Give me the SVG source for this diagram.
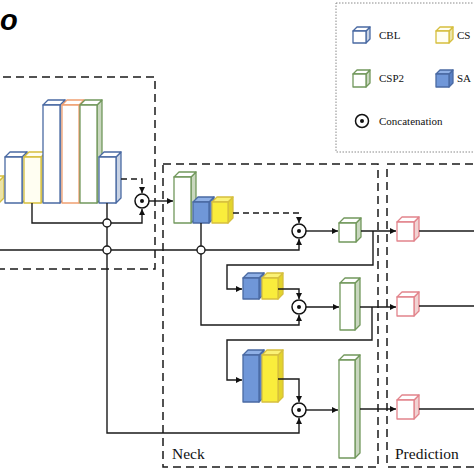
<svg xmlns="http://www.w3.org/2000/svg" width="474" height="474" viewBox="0 0 474 474">
<defs>
<marker id="ah" viewBox="0 0 6 6" refX="6" refY="3" markerWidth="6" markerHeight="6" markerUnits="userSpaceOnUse" orient="auto">
<path d="M0,0 L6,3 L0,6 Z" fill="#111"/>
</marker>
<style>
.ln{fill:none;stroke:#1a1a1a;stroke-width:1.4}
.dl{fill:none;stroke:#1a1a1a;stroke-width:1.4;stroke-dasharray:6,4}
.box{fill:none;stroke:#1a1a1a;stroke-width:1.5;stroke-dasharray:8,5}
.jn{fill:#fff;stroke:#1a1a1a;stroke-width:1.4}
.cc{fill:#fff;stroke:#111;stroke-width:1.5}
.dot{fill:#111}
.lbl{font-family:"Liberation Serif","Times New Roman",serif;fill:#111}
.b{stroke:#4a6aa3;stroke-width:1.3;stroke-linejoin:round}
.b .f,.b .t{fill:#fff}.b .s{fill:#c9d3e4}
.o{stroke:#f0a072;stroke-width:1.3;stroke-linejoin:round}
.o .f,.o .t{fill:#fff}.o .s{fill:#f7d9c4}
.g{stroke:#72985c;stroke-width:1.3;stroke-linejoin:round}
.g .f,.g .t{fill:#fff}.g .s{fill:#c9d7bf}
.y{stroke:#d6bf3e;stroke-width:1.3;stroke-linejoin:round}
.y .f,.y .t{fill:#fffef2}.y .s{fill:#ece3a6}
.sa{stroke:#4a6aa3;stroke-width:1.3;stroke-linejoin:round}
.sa .f{fill:#7097d8}.sa .t{fill:#8fb0e6}.sa .s{fill:#5a80c4}
.yf{stroke:#d6bf3e;stroke-width:1.3;stroke-linejoin:round}
.yf .f{fill:#f9ed3c}.yf .t{fill:#fbf276}.yf .s{fill:#e3d42c}
.p{stroke:#e2848c;stroke-width:1.3;stroke-linejoin:round}
.p .f,.p .t{fill:#fff}.p .s{fill:#f1d2d2}
</style>
</defs>
<rect x="0" y="0" width="474" height="474" fill="#fff"/>

<text x="0" y="30" font-family="Liberation Sans, Arial, sans-serif" font-weight="bold" font-style="italic" font-size="29" fill="#000">o</text>

<!-- Legend -->
<g id="legend">
<rect x="336" y="3" width="150" height="149" fill="none" stroke="#8a8a8a" stroke-width="1" stroke-dasharray="1.5,1.5"/>
<g class="b"><path class="s" d="M366,31 L370,27 L370,39 L366,43 Z"/><path class="t" d="M353,31 L357,27 L370,27 L366,31 Z"/><rect class="f" x="353" y="31" width="13" height="12"/></g>
<text class="lbl" x="379" y="39" font-size="11">CBL</text>
<g class="y"><path class="s" d="M449,31 L453,27 L453,39 L449,43 Z"/><path class="t" d="M436,31 L440,27 L453,27 L449,31 Z"/><rect class="f" x="436" y="31" width="13" height="12"/></g>
<text class="lbl" x="457" y="39" font-size="11">CS</text>
<g class="g"><path class="s" d="M366,74 L370,70 L370,83 L366,87 Z"/><path class="t" d="M353,74 L357,70 L370,70 L366,74 Z"/><rect class="f" x="353" y="74" width="13" height="13"/></g>
<text class="lbl" x="379" y="82" font-size="11">CSP2</text>
<g class="sa"><path class="s" d="M449,74 L453,70 L453,83 L449,87 Z"/><path class="t" d="M436,74 L440,70 L453,70 L449,74 Z"/><rect class="f" x="436" y="74" width="13" height="13"/></g>
<text class="lbl" x="457" y="82" font-size="11">SA</text>
<circle class="cc" cx="362" cy="121" r="6.5"/><circle class="dot" cx="362" cy="121" r="2"/>
<text class="lbl" x="379" y="125" font-size="11">Concatenation</text>
</g>

<!-- Region boxes -->
<g id="backbone">
<rect class="box" x="-10" y="77" width="165" height="192"/>
<g class="y"><path class="s" d="M-1,181 L4,176 L4,198 L-1,203 Z"/><path class="t" d="M-15,181 L-10,176 L4,176 L-1,181 Z"/><rect class="f" x="-15" y="181" width="14" height="22"/></g>
<g class="b"><path class="s" d="M22,157 L27,152 L27,198 L22,203 Z"/><path class="t" d="M5,157 L10,152 L27,152 L22,157 Z"/><rect class="f" x="5" y="157" width="17" height="46"/></g>
<g class="y"><path class="s" d="M41,157 L46,152 L46,198 L41,203 Z"/><path class="t" d="M24,157 L29,152 L46,152 L41,157 Z"/><rect class="f" x="24" y="157" width="17" height="46"/></g>
<g class="b"><path class="s" d="M60,105 L65,100 L65,198 L60,203 Z"/><path class="t" d="M43,105 L48,100 L65,100 L60,105 Z"/><rect class="f" x="43" y="105" width="17" height="98"/></g>
<g class="o"><path class="s" d="M79,105 L84,100 L84,198 L79,203 Z"/><path class="t" d="M62,105 L67,100 L84,100 L79,105 Z"/><rect class="f" x="62" y="105" width="17" height="98"/></g>
<g class="g"><path class="s" d="M97,105 L102,100 L102,198 L97,203 Z"/><path class="t" d="M80,105 L85,100 L102,100 L97,105 Z"/><rect class="f" x="80" y="105" width="17" height="98"/></g>
<g class="b"><path class="s" d="M116,157 L121,152 L121,198 L116,203 Z"/><path class="t" d="M99,157 L104,152 L121,152 L116,157 Z"/><rect class="f" x="99" y="157" width="17" height="46"/></g>
</g>

<g id="neck">
<rect class="box" x="163" y="164" width="215" height="303"/>
<text class="lbl" x="172" y="459" font-size="15.5">Neck</text>
<g class="g"><path class="s" d="M191,177 L196,172 L196,218 L191,223 Z"/><path class="t" d="M174,177 L179,172 L196,172 L191,177 Z"/><rect class="f" x="174" y="177" width="17" height="46"/></g>
<g class="sa"><path class="s" d="M209,202 L214,197 L214,218 L209,223 Z"/><path class="t" d="M193,202 L198,197 L214,197 L209,202 Z"/><rect class="f" x="193" y="202" width="16" height="21"/></g>
<g class="yf"><path class="s" d="M228,202 L233,197 L233,218 L228,223 Z"/><path class="t" d="M212,202 L217,197 L233,197 L228,202 Z"/><rect class="f" x="212" y="202" width="16" height="21"/></g>
<g class="g"><path class="s" d="M356,223 L361,218 L361,237 L356,242 Z"/><path class="t" d="M339,223 L344,218 L361,218 L356,223 Z"/><rect class="f" x="339" y="223" width="17" height="19"/></g>
<g class="sa"><path class="s" d="M259,278 L264,273 L264,294 L259,299 Z"/><path class="t" d="M243,278 L248,273 L264,273 L259,278 Z"/><rect class="f" x="243" y="278" width="16" height="21"/></g>
<g class="yf"><path class="s" d="M278,278 L283,273 L283,294 L278,299 Z"/><path class="t" d="M262,278 L267,273 L283,273 L278,278 Z"/><rect class="f" x="262" y="278" width="16" height="21"/></g>
<g class="g"><path class="s" d="M355,283 L360,278 L360,325 L355,330 Z"/><path class="t" d="M340,283 L345,278 L360,278 L355,283 Z"/><rect class="f" x="340" y="283" width="15" height="47"/></g>
<g class="sa"><path class="s" d="M259,355 L264,350 L264,397 L259,402 Z"/><path class="t" d="M243,355 L248,350 L264,350 L259,355 Z"/><rect class="f" x="243" y="355" width="16" height="47"/></g>
<g class="yf"><path class="s" d="M278,355 L283,350 L283,397 L278,402 Z"/><path class="t" d="M262,355 L267,350 L283,350 L278,355 Z"/><rect class="f" x="262" y="355" width="16" height="47"/></g>
<g class="g"><path class="s" d="M355,360 L360,355 L360,453 L355,458 Z"/><path class="t" d="M339,360 L344,355 L360,355 L355,360 Z"/><rect class="f" x="339" y="360" width="16" height="98"/></g>
</g>

<g id="prediction">
<rect class="box" x="387" y="164" width="100" height="303"/>
<text class="lbl" x="395" y="459" font-size="15.5">Prediction</text>
<g class="p"><path class="s" d="M414,222 L419,217 L419,236 L414,241 Z"/><path class="t" d="M397,222 L402,217 L419,217 L414,222 Z"/><rect class="f" x="397" y="222" width="17" height="19"/></g>
<g class="p"><path class="s" d="M414,297 L419,292 L419,311 L414,316 Z"/><path class="t" d="M397,297 L402,292 L419,292 L414,297 Z"/><rect class="f" x="397" y="297" width="17" height="19"/></g>
<g class="p"><path class="s" d="M414,400 L419,395 L419,414 L414,419 Z"/><path class="t" d="M397,400 L402,395 L419,395 L414,400 Z"/><rect class="f" x="397" y="400" width="17" height="19"/></g>
</g>

<!-- Connectors -->
<g id="connectors">
<path class="dl" d="M121,179 H142 V193" marker-end="url(#ah)"/>
<path class="ln" d="M32,203 V223 H142 V209" marker-end="url(#ah)"/>
<path class="ln" d="M107,203 V433 H299 V418" marker-end="url(#ah)"/>
<path class="ln" d="M-5,250 H299 V239" marker-end="url(#ah)"/>
<path class="ln" d="M149,201 H173" marker-end="url(#ah)"/>
<path class="dl" d="M233,213 H299 V223" marker-end="url(#ah)"/>
<path class="ln" d="M201,223 V325 H299 V315" marker-end="url(#ah)"/>
<path class="ln" d="M306,231 H338" marker-end="url(#ah)"/>
<path class="ln" d="M361,231 H396" marker-end="url(#ah)"/>
<path class="ln" d="M373,231 V265 H227 V289 H242" marker-end="url(#ah)"/>
<path class="ln" d="M278,289 H299 V299" marker-end="url(#ah)"/>
<path class="ln" d="M306,307 H339" marker-end="url(#ah)"/>
<path class="ln" d="M360,307 H396" marker-end="url(#ah)"/>
<path class="ln" d="M372,307 V340 H227 V380 H242" marker-end="url(#ah)"/>
<path class="ln" d="M278,379 H299 V402" marker-end="url(#ah)"/>
<path class="ln" d="M306,410 H338" marker-end="url(#ah)"/>
<path class="ln" d="M360,409 H396" marker-end="url(#ah)"/>
<path class="ln" d="M419,231 H474"/>
<path class="ln" d="M419,306 H474"/>
<path class="ln" d="M419,409 H474"/>
<circle class="jn" cx="107" cy="223" r="4"/>
<circle class="jn" cx="107" cy="250" r="4"/>
<circle class="jn" cx="201" cy="250" r="4"/>
<circle class="cc" cx="142" cy="201" r="7"/><circle class="dot" cx="142" cy="201" r="2"/>
<circle class="cc" cx="299" cy="231" r="7"/><circle class="dot" cx="299" cy="231" r="2"/>
<circle class="cc" cx="299" cy="307" r="7"/><circle class="dot" cx="299" cy="307" r="2"/>
<circle class="cc" cx="299" cy="410" r="7"/><circle class="dot" cx="299" cy="410" r="2"/>
</g>
</svg>
